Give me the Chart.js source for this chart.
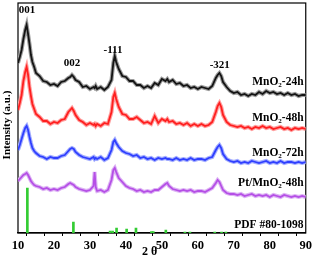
<!DOCTYPE html>
<html>
<head>
<meta charset="utf-8">
<script src="https://cdn.jsdelivr.net/npm/chart.js@4.4.1/dist/chart.umd.min.js"></script>
<style>
html,body{margin:0;padding:0;background:#fff;}
canvas{display:block;}
</style>
</head>
<body>
<canvas id="c" width="314" height="259"></canvas>
<script>
// 2θ sample positions (degrees)
const angles = [
  10,10.5,11,11.5,12,12.4,12.8,13.2,13.6,14,14.5,15,
  16,17,18,19,20,21,22,23,
  24,24.5,25,25.5,26,27,28,29,30,
  31,31.3,31.6,32,33,34,35,
  36,36.5,36.9,37.3,38,39,40,41,42,43,44,45,
  46,47,48,49,50,51,51.5,52,53,54,55,
  56,57,58,59,60,61,62,63,64,
  65,65.5,66,66.5,67,68,69,70,
  71,72,73,74,75,76,77,78,79,80,81,82,83,84,85,86,87,88,89,90
];
// Intensities (a.u., stacked offsets included)
const mno2_24h = [
  170,176,183,194,203,208,199,189,178,171,166,160,
  157,152,151,148,149,147,151,152,
  155,156,158,156,153,151,146,147,144,
  146,145,147,144,146,143,146,
  153,170,177,171,164,157,156,152,152,148,148,145,
  147,145,150,148,154,152,154,151,153,149,150,
  147,148,145,146,144,146,145,144,147,
  155,158,160,157,151,146,142,140,
  141,138,139,137,139,138,141,139,142,140,141,139,140,138,140,138,139,137,138,138
];
const mno2_48h = [
  123,130,138,152,161,166,158,146,137,129,124,119,
  116,112,112,109,111,110,113,114,
  121,123,125,122,118,113,111,108,110,
  108,109,107,109,107,110,109,
  121,136,140,134,126,119,118,114,114,116,113,110,
  111,109,117,110,114,112,114,111,112,109,110,
  108,110,107,109,107,109,107,108,111,
  121,127,130,126,118,111,108,107,
  106,107,105,106,104,106,105,107,105,106,104,105,106,104,105,103,105,104,105,104
];
const mno2_72h = [
  83,88,94,100,105,107,103,96,90,85,82,80,
  77,76,74,76,75,75,77,78,
  82,84,85,84,81,78,76,75,74,
  76,74,75,74,76,73,75,
  83,91,93,90,86,82,80,79,77,78,75,76,
  74,75,73,75,74,75,74,74,73,75,73,
  74,73,75,73,74,74,73,75,76,
  83,86,88,85,79,74,72,71,
  72,70,71,70,72,71,70,71,72,70,71,70,72,70,71,71,70,71,70,71
];
const pt_mno2_48h = [
  52,54,56,58,59,60,58,55,52,50,48,47,
  46,44,45,43,44,43,45,46,
  49,50,49,48,46,44,43,42,43,
  47,61,46,42,43,41,43,
  53,63,65,61,55,51,47,45,44,42,43,41,
  42,41,43,43,46,49,50,47,44,43,42,
  43,42,43,41,42,42,41,43,45,
  50,53,51,47,43,40,39,39,
  38,39,37,38,39,37,38,37,38,36,38,37,36,38,37,36,37,36,37,36
];
// Reference pattern PDF #80-1098
const pdfAngles = [12.6,25.4,35.6,36.3,37.4,40.2,42.8,47.1,47.6,51.1,56.4,57.8,64.7,66.6,67.8];
const pdfIntensity = [45,11,2,2,5,4,5,1.5,1.5,3,1,1,1,1,1];

const xTicks = [10,20,30,40,50,60,70,80,90];
const peakLabels = ['001','002','-111','-321'];
const seriesNames = ['MnO2-24h','MnO2-48h','MnO2-72h','Pt/MnO2-48h','PDF #80-1098'];

function pts(vals){ return angles.map((a,i)=>({x:a,y:vals[i]})); }

const FONT = '"Liberation Serif","Times New Roman",serif';

function drawSubText(ctx, text, xRight, yMid, size){
  const parts = [];
  const idx = text.indexOf('O2');
  if (idx >= 0){
    parts.push({t:text.slice(0, idx+1), sub:false});
    parts.push({t:'2', sub:true});
    parts.push({t:text.slice(idx+2), sub:false});
  } else parts.push({t:text, sub:false});
  let total = 0;
  parts.forEach(p=>{
    ctx.font = 'bold ' + (p.sub? Math.round(size*0.65): size) + 'px ' + FONT;
    p.w = ctx.measureText(p.t).width; total += p.w;
  });
  let x = xRight - total;
  parts.forEach(p=>{
    ctx.font = 'bold ' + (p.sub? Math.round(size*0.65): size) + 'px ' + FONT;
    ctx.textAlign = 'left'; ctx.textBaseline = 'middle';
    ctx.fillText(p.t, x, p.sub ? yMid + size*0.3 : yMid);
    x += p.w;
  });
}

const annot = {
  id:'annot',
  beforeDatasetsDraw(chart){
    const {ctx, chartArea:a} = chart;
    ctx.save();
    ctx.strokeStyle = '#000'; ctx.lineWidth = 1.2;
    ctx.strokeRect(a.left, a.top, a.right-a.left, a.bottom-a.top);
    ctx.restore();
  },
  afterDatasetsDraw(chart){
    const {ctx} = chart;
    const xs = chart.scales.x, ys = chart.scales.y;
    ctx.save();
    ctx.fillStyle = '#000';
    ctx.font = 'bold 11px ' + FONT;
    ctx.textAlign = 'center'; ctx.textBaseline = 'middle';
    const peakPos = [[12.5,223],[25.0,170],[36.4,183],[66.1,168]];
    peakLabels.forEach((t,i)=>{
      ctx.fillText(t, xs.getPixelForValue(peakPos[i][0]), ys.getPixelForValue(peakPos[i][1]));
    });
    const seriesY = [151,115,80,50,8];
    seriesNames.forEach((t,i)=>{
      drawSubText(ctx, t, xs.getPixelForValue(89.4), ys.getPixelForValue(seriesY[i]), 11.5);
    });
    ctx.font = 'bold 12px ' + FONT;
    ctx.textAlign = 'center'; ctx.textBaseline = 'middle';
    ctx.fillText('2 \u03b8', xs.getPixelForValue(46.6), 252);
    ctx.save();
    ctx.translate(7, ys.getPixelForValue(108));
    ctx.rotate(-Math.PI/2);
    ctx.font = 'bold 11px ' + FONT;
    ctx.fillText('Intensity (a.u.)', 0, 0);
    ctx.restore();
    ctx.restore();
  }
};

const line = (label, vals, color, width, order) => ({
  type:'line', label, data: pts(vals), borderColor: color, borderWidth: width,
  pointRadius: 0, tension: 0, fill: false, order
});

new Chart(document.getElementById('c').getContext('2d'), {
  type: 'line',
  data: {
    datasets: [
      line(seriesNames[0], mno2_24h, '#141414', 1.8, 1),
      line(seriesNames[1], mno2_48h, '#ff1f1f', 1.8, 1),
      line(seriesNames[2], mno2_72h, '#2f3fff', 1.8, 1),
      line(seriesNames[3], pt_mno2_48h, '#b54fe6', 1.8, 1),
      line(seriesNames[0] + ' band', mno2_24h, '#9c9c9c', 4, 5),
      line(seriesNames[1] + ' band', mno2_48h, '#ff9d9d', 4, 5),
      line(seriesNames[2] + ' band', mno2_72h, '#a3adff', 4, 5),
      line(seriesNames[3] + ' band', pt_mno2_48h, '#ddb3f4', 4, 5),
      {type:'bar', label: seriesNames[4], data: pdfAngles.map((a,i)=>({x:a,y:pdfIntensity[i]})),
       backgroundColor:'#33cc33', barThickness: 2, grouped: false, order: 1}
    ]
  },
  options: {
    responsive: false, animation: false, devicePixelRatio: 1,
    layout: {padding: {left: 18, right: 8, top: 3, bottom: 0}},
    plugins: {legend: {display: false}, tooltip: {enabled: false}},
    scales: {
      x: {
        type: 'linear', min: 10, max: 90, offset: false,
        afterFit(s){ s.height = 26; },
        afterBuildTicks(s){ s.ticks = []; for (const v of xTicks){ s.ticks.push({value:v}); if (v < 90) s.ticks.push({value:v+5}); } },
        ticks: {autoSkip: false, maxRotation: 0, padding: 2, color: '#000',
          font: {family: FONT, weight: 'bold', size: 12.5},
          callback: v => xTicks.includes(v) ? String(v) : ''},
        grid: {display: true, drawOnChartArea: false, drawTicks: true, tickLength: 3, color: '#000'},
        border: {display: true, color: '#000', width: 1.2}
      },
      y: {display: false, min: 0, max: 230}
    }
  },
  plugins: [annot]
});
</script>
</body>
</html>
